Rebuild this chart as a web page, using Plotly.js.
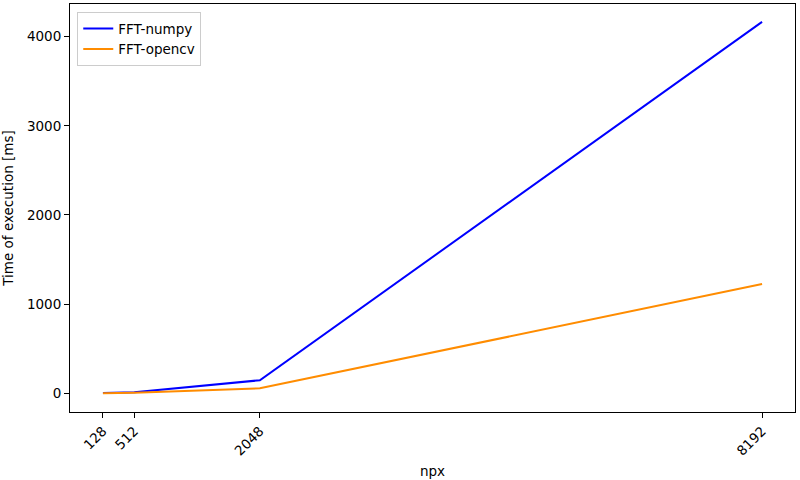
<!DOCTYPE html>
<html>
<head>
<meta charset="utf-8">
<script src="https://cdn.plot.ly/plotly-3.0.1.min.js"></script>
<style>
  html, body { margin: 0; padding: 0; background: #fff; }
  #chart { width: 800px; height: 480px; }
</style>
</head>
<body>
<div id="chart"></div>
<script>
// problem sizes (npx) and measured times in ms
const npx = [128, 512, 2048, 8192];
const numpyTimes = [2, 12, 146, 4165];
const opencvTimes = [1, 6, 56, 1225];
const yTicks = [0, 1000, 2000, 3000, 4000];

const font = { family: 'DejaVu Sans, sans-serif', size: 13.5, color: '#000' };

const traces = [
    {
        x: npx,
        y: numpyTimes,
        type: 'scatter',
        mode: 'lines',
        name: 'FFT-numpy',
        line: { color: '#0000ff', width: 2 }
    },
    {
        x: npx,
        y: opencvTimes,
        type: 'scatter',
        mode: 'lines',
        name: 'FFT-opencv',
        line: { color: '#ff8c00', width: 2 }
    }
];

const axisCommon = {
    showgrid: false,
    zeroline: false,
    showline: true,
    mirror: true,
    linecolor: '#000',
    linewidth: 1,
    ticks: 'outside',
    ticklen: 5,
    tickcolor: '#000',
    tickfont: font
};

const layout = {
    width: 800,
    height: 480,
    margin: { l: 70, r: 5, t: 4, b: 68 },
    paper_bgcolor: '#fff',
    plot_bgcolor: '#fff',
    font: font,
    showlegend: true,
    legend: {
        x: 0.01, y: 0.98,
        xanchor: 'left', yanchor: 'top',
        bgcolor: 'rgba(255,255,255,0.8)',
        bordercolor: '#cccccc',
        borderwidth: 1,
        font: font
    },
    xaxis: Object.assign({}, axisCommon, {
        range: [-275, 8595],
        tickmode: 'array',
        tickvals: npx,
        ticktext: npx.map(String),
        tickangle: -45,
        title: { text: 'npx', font: font, standoff: 8 }
    }),
    yaxis: Object.assign({}, axisCommon, {
        range: [-210, 4366],
        tickmode: 'array',
        tickvals: yTicks,
        ticktext: yTicks.map(String),
        title: { text: 'Time of execution [ms]', font: font, standoff: 10 }
    })
};

Plotly.newPlot('chart', traces, layout, { displayModeBar: false, staticPlot: true });
</script>
</body>
</html>
